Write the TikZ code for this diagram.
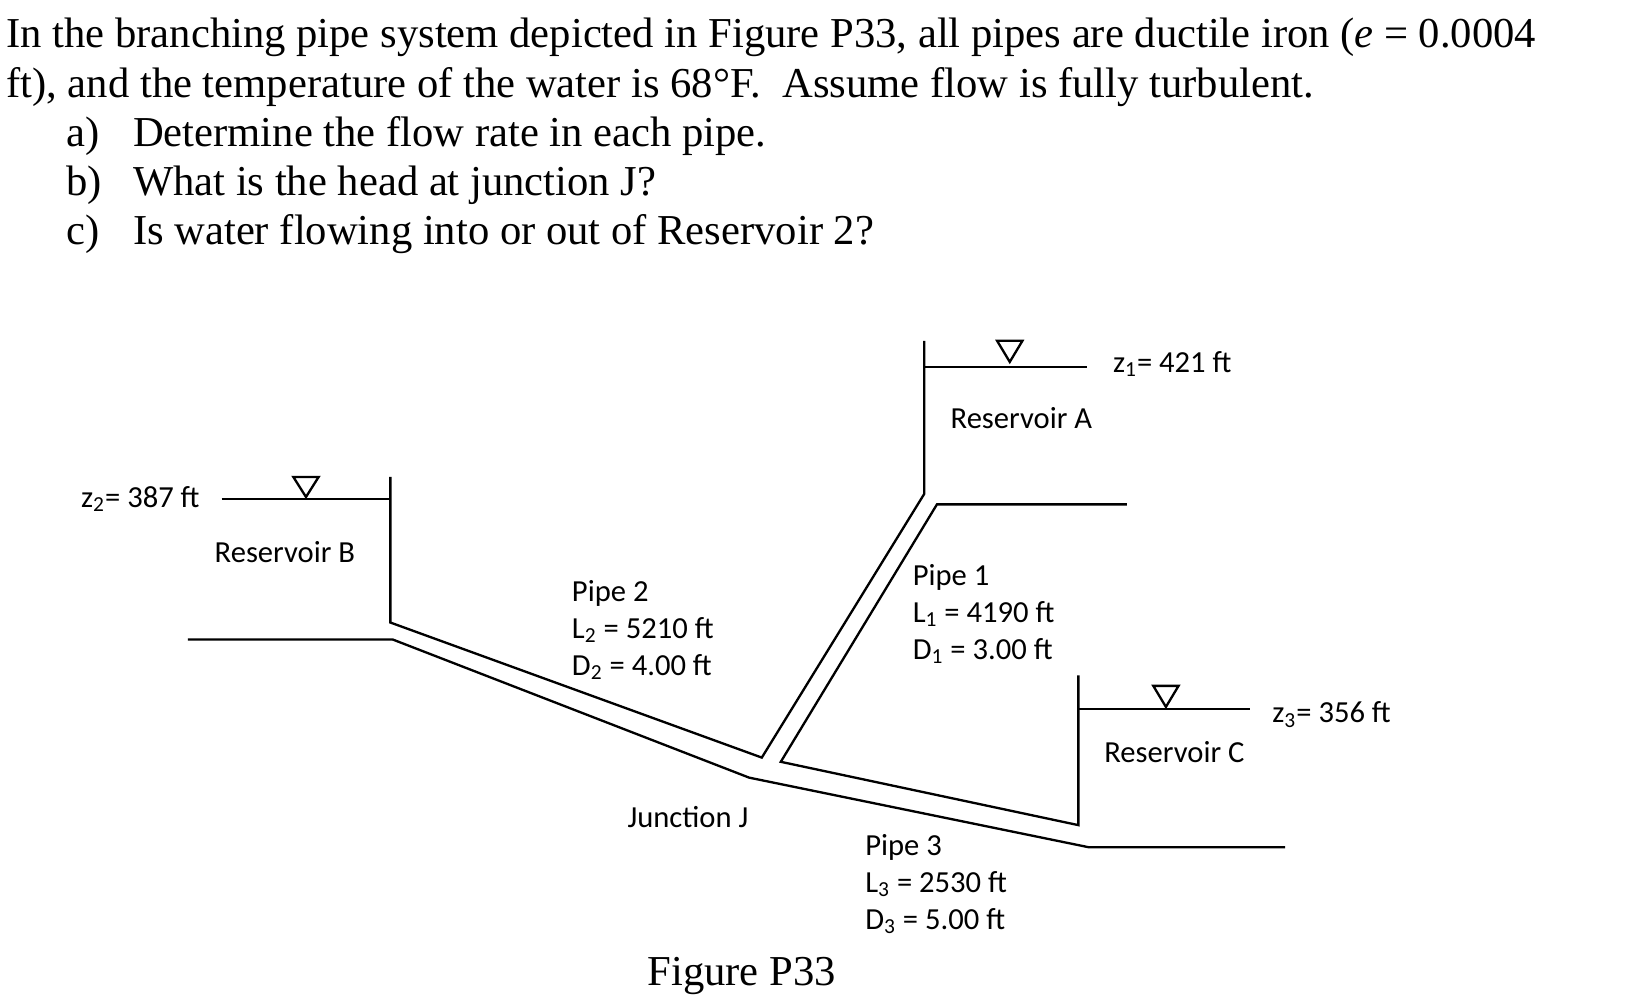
\documentclass[tikz,border=0pt]{standalone}
\usepackage{fontspec}
\setmainfont{Liberation Serif}
\newfontfamily\calfont{Carlito}
\begin{document}
\begin{tikzpicture}[x=0.5pt,y=-0.5pt,line width=1.1pt,
 t/.style={anchor=base west,inner sep=0,font=\fontsize{20.2}{22}\selectfont},
 l/.style={inner sep=0,font=\calfont\fontsize{14.5}{17.5}\selectfont}]
\useasboundingbox (0,0) rectangle (1560,955);
\node[t] (l1) at (5,45) {In the branching pipe system depicted in Figure P33, all pipes are ductile iron (\textit{e} = 0.0004};
\node[t] (l2) at (5,92) {ft), and the temperature of the water is 68\textdegree F.\ \ Assume flow is fully turbulent.};
\node[t] (a1) at (62,139) {a)};\node[t] (a2) at (125,139) {Determine the flow rate in each pipe.};
\node[t] (b1) at (62,185) {b)};\node[t] (b2) at (125,185) {What is the head at junction J?};
\node[t] (c1) at (62,232) {c)};\node[t] (c2) at (125,232) {Is water flowing into or out of Reservoir 2?};
\draw (876,323) -- (876,468) -- (722,718) -- (370,590) -- (370,452);
\draw (876,348) -- (1030,348);
\draw (945,323) -- (969,323) -- (957,343) -- cycle;
\draw (1068,478) -- (888,478) -- (740,722) -- (1022,782) -- (1022,640);
\draw (210,473) -- (370,473);
\draw (278,452) -- (302,452) -- (290,471) -- cycle;
\draw (178,606) -- (372,606) -- (710,737) -- (1032,803) -- (1218,803);
\draw (1022,672) -- (1185,672);
\draw (1093,650) -- (1117,650) -- (1105,670) -- cycle;
\node[l] (z1) at (1111,345) {z\textsubscript{1}= 421 ft};
\node[l] (rA) at (968,396) {Reservoir A};
\node[l] (z2) at (133,473) {z\textsubscript{2}= 387 ft};
\node[l] (rB) at (270,523) {Reservoir B};
\node[l] (z3) at (1262,677) {z\textsubscript{3}= 356 ft};
\node[l] (rC) at (1113,713) {Reservoir C};
\node[l,anchor=west,align=left] (p1) at (864,582) {Pipe 1\\L\textsubscript{1} = 4190 ft\\D\textsubscript{1} = 3.00 ft};
\node[l,anchor=west,align=left] (p2) at (541,597) {Pipe 2\\L\textsubscript{2} = 5210 ft\\D\textsubscript{2} = 4.00 ft};
\node[l,anchor=west,align=left] (p3) at (819,838) {Pipe 3\\L\textsubscript{3} = 2530 ft\\D\textsubscript{3} = 5.00 ft};
\node[l] (jj) at (652,774) {Junction J};
\node[inner sep=0,font=\fontsize{20.2}{22}\selectfont] (fig) at (703,925) {Figure P33};
\end{tikzpicture}
\end{document}
